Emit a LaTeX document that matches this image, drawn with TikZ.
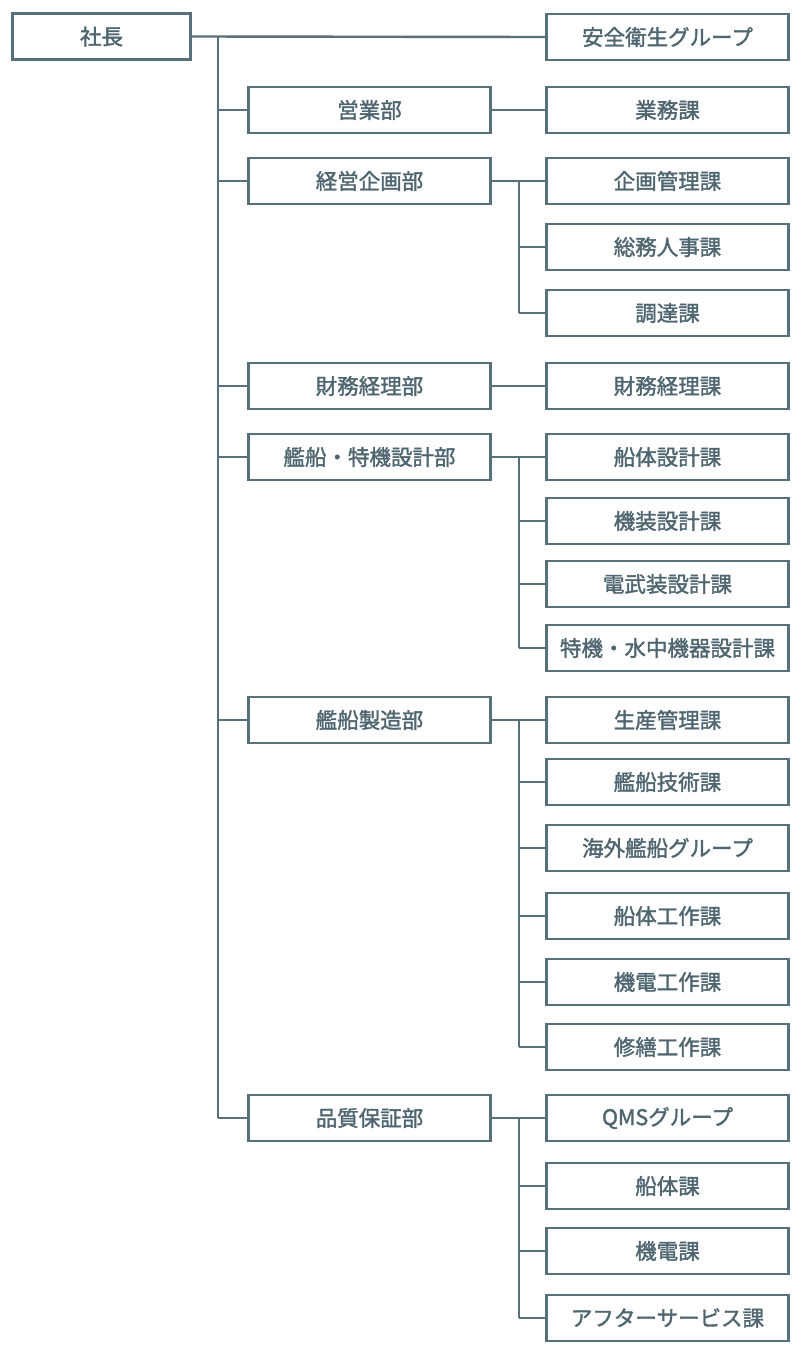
\documentclass[tikz,border=0pt]{standalone}
\usepackage{fontspec}
\newfontfamily\cjk[RawFeature={embolden=1.6}]{Noto Sans CJK JP}
\definecolor{slate}{HTML}{587079}
\definecolor{slatetext}{HTML}{4F6670}
\begin{document}
\begin{tikzpicture}[x=1pt,y=-1pt,
  box/.style={draw=slate,line width=2.4pt,fill=white,minimum height=46pt,inner sep=0pt,
    text=slatetext,font=\cjk\fontsize{21.5}{24}\selectfont},
  topbox/.style={box,minimum width=178pt},
  depbox/.style={box,minimum width=242pt},
  secbox/.style={box,minimum width=242pt},
  link/.style={draw=slate,line width=2.4pt}]
\useasboundingbox (0,0) rectangle (801,1357);
% nodes
\node[topbox] (pres) at (101.5,36.5) {社長};
\node[secbox] (anzen) at (667.5,37) {安全衛生グループ};
\node[depbox] (eigyo) at (369.5,110) {営業部};
\node[secbox] (gyomu) at (667.5,110) {業務課};
\node[depbox] (keiei) at (369.5,181) {経営企画部};
\node[secbox] (kikaku) at (667.5,181) {企画管理課};
\node[secbox] (somu) at (667.5,247) {総務人事課};
\node[secbox] (chotatsu) at (667.5,313) {調達課};
\node[depbox] (zaimu) at (369.5,386) {財務経理部};
\node[secbox] (zaimuka) at (667.5,386) {財務経理課};
\node[depbox] (sekkei) at (369.5,457) {艦船・特機設計部};
\node[secbox] (sentai) at (667.5,457) {船体設計課};
\node[secbox] (kiso) at (667.5,521) {機装設計課};
\node[secbox] (denbu) at (667.5,584) {電武装設計課};
\node[secbox] (tokki) at (667.5,648) {特機・水中機器設計課};
\node[depbox] (seizo) at (369.5,720) {艦船製造部};
\node[secbox] (seisan) at (667.5,720) {生産管理課};
\node[secbox] (gijutsu) at (667.5,782) {艦船技術課};
\node[secbox] (kaigai) at (667.5,848) {海外艦船グループ};
\node[secbox] (sentaiko) at (667.5,916) {船体工作課};
\node[secbox] (kiden) at (667.5,982) {機電工作課};
\node[secbox] (shuzen) at (667.5,1047) {修繕工作課};
\node[depbox] (hinshitsu) at (369.5,1118) {品質保証部};
\node[secbox] (qms) at (667.5,1118) {QMSグループ};
\node[secbox] (sentaika) at (667.5,1186) {船体課};
\node[secbox] (kidenka) at (667.5,1251) {機電課};
\node[secbox] (after) at (667.5,1318) {アフターサービス課};
% connectors
\coordinate (trunk) at (218,0);
\draw[link] (pres.east) -- (anzen.west);
\draw[link] (pres.east -| trunk) -- (hinshitsu.west -| trunk);
\foreach \d in {eigyo,keiei,zaimu,sekkei,seizo,hinshitsu}
  \draw[link] (\d.west -| trunk) -- (\d.west);
\draw[link] (eigyo.east) -- (gyomu.west);
\draw[link] (zaimu.east) -- (zaimuka.west);
\coordinate (br) at (519,0);
\foreach \p/\first/\last/\list in {keiei/kikaku/chotatsu/{kikaku,somu,chotatsu},
    sekkei/sentai/tokki/{sentai,kiso,denbu,tokki},
    seizo/seisan/shuzen/{seisan,gijutsu,kaigai,sentaiko,kiden,shuzen},
    hinshitsu/qms/after/{qms,sentaika,kidenka,after}}{
  \draw[link] (\p.east) -- (\first.west);
  \draw[link] (\first.west -| br) -- (\last.west -| br);
  \foreach \c in \list \draw[link] (\c.west -| br) -- (\c.west);
}
\end{tikzpicture}
\end{document}
